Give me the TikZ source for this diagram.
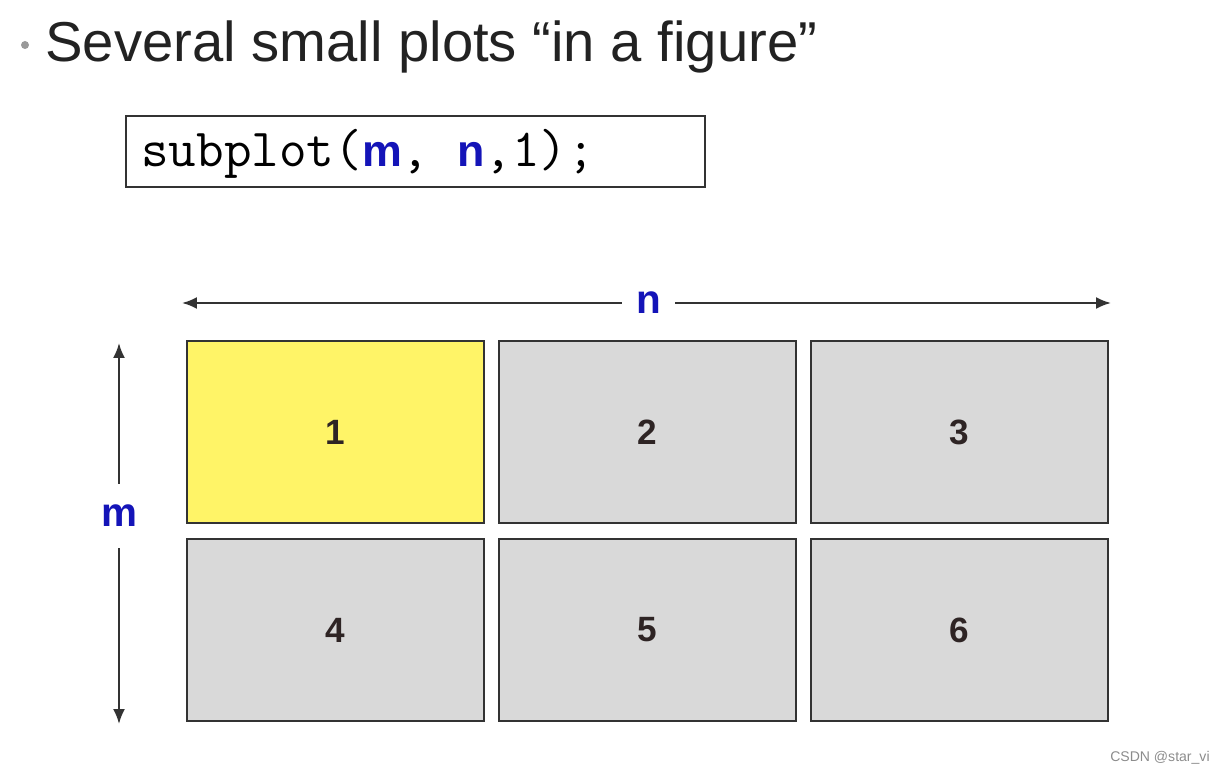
\documentclass[tikz,border=0pt]{standalone}
\usepackage{fontspec}
\setmainfont{Liberation Sans}
\usetikzlibrary{arrows.meta}
\definecolor{cellyellow}{HTML}{FFF467}
\definecolor{cellgrey}{HTML}{D9D9D9}
\definecolor{letterblue}{HTML}{1414B8}
\definecolor{edgedark}{HTML}{333333}
\definecolor{numdark}{HTML}{2E2424}
\definecolor{titledark}{HTML}{222222}

\begin{document}
\begin{tikzpicture}[x=0.02cm, y=-0.02cm,
    cell/.style={draw=edgedark, line width=1.1pt, fill=cellgrey, inner sep=0pt,
        minimum width=5.94cm, minimum height=3.64cm,
        font=\fontsize{20}{20}\selectfont\bfseries, text=numdark},
    dimlabel/.style={inner sep=0pt, text=letterblue,
        font=\fontsize{23}{23}\selectfont\bfseries},
    dimarrow/.style={draw=edgedark, line width=1.2pt,
        -{Latex[length=3mm, width=2.4mm]}}]
    \useasboundingbox (0, 0) rectangle (1225, 773);

    % title line
    \fill[black!40] (25, 45) circle[radius=4];
    \node (title) [anchor=base west, inner sep=0pt, text=titledark,
        font=\fontsize{32}{38}\selectfont] at (45, 62)
        {Several small plots “in a figure”};

    % code box
    \node (codebox) [draw=edgedark, line width=1pt, inner sep=0pt,
        minimum width=11.58cm, minimum height=1.42cm] at (415.5, 151.5) {};
    \node (codetext) [anchor=base west, inner sep=0pt,
        font=\ttfamily\fontsize{30.5}{31}\selectfont] at (141, 167)
        {subplot({\color{letterblue}\fontsize{25.5}{26}\selectfont\bfseries\rmfamily m}, {\color{letterblue}\fontsize{25.5}{26}\selectfont\bfseries\rmfamily n},1);};

    % n arrow
    \node (nlab) [dimlabel, minimum width=1.06cm] at (648.5, 303) {n};
    \coordinate (nleft) at (182, 303);
    \coordinate (nright) at (1111, 303);
    \draw[dimarrow] (nlab.west) -- (nleft);
    \draw[dimarrow] (nlab.east) -- (nright);

    % m arrow
    \node (mlab) [dimlabel, minimum height=1.28cm] at (119, 516) {m};
    \coordinate (mtop) at (119, 343);
    \coordinate (mbottom) at (119, 724);
    \draw[dimarrow] (mlab.north) -- (mtop);
    \draw[dimarrow] (mlab.south) -- (mbottom);

    % subplot cells
    \node (cell1) [cell, fill=cellyellow] at (335.5, 432) {1};
    \node (cell2) [cell] at (647.5, 432) {2};
    \node (cell3) [cell] at (959.5, 432) {3};
    \node (cell4) [cell] at (335.5, 630) {4};
    \node (cell5) [cell] at (647.5, 630) {5};
    \node (cell6) [cell] at (959.5, 630) {6};

    \node (wm) [anchor=base east, inner sep=0pt, text=black!45,
        font=\fontsize{8}{8}\selectfont] at (1210, 762) {CSDN @star\_vi};
\end{tikzpicture}
\end{document}
